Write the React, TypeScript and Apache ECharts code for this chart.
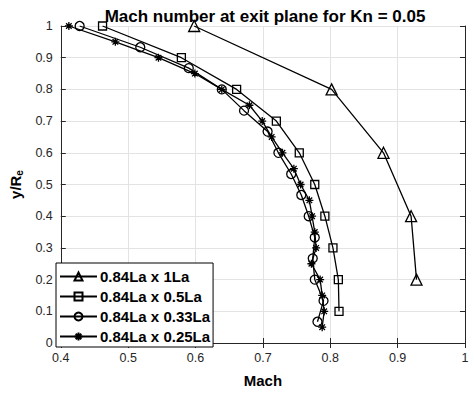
import React, { useEffect, useRef } from "react";
import * as echarts from "echarts";

const yTri = [1.0, 0.8, 0.6, 0.4, 0.2];
const xTri = [0.598, 0.802, 0.879, 0.92, 0.928];

const ySq = [1.0, 0.9, 0.8, 0.7, 0.6, 0.5, 0.4, 0.3, 0.2, 0.1];
const xSq = [0.462, 0.579, 0.661, 0.72, 0.754, 0.777, 0.792, 0.804, 0.812, 0.813];

const yCirc = [1.0, 0.933, 0.867, 0.8, 0.733, 0.667, 0.6, 0.533, 0.467, 0.4, 0.333, 0.267, 0.2, 0.133, 0.067];
const xCirc = [0.428, 0.518, 0.59, 0.639, 0.672, 0.707, 0.723, 0.742, 0.757, 0.768, 0.777, 0.774, 0.777, 0.79, 0.781];

const yStar = [1.0, 0.95, 0.9, 0.85, 0.8, 0.75, 0.7, 0.65, 0.6, 0.55, 0.5, 0.45, 0.4, 0.35, 0.3, 0.25, 0.2, 0.15, 0.1, 0.05];
const xStar = [0.412, 0.481, 0.545, 0.599, 0.639, 0.68, 0.699, 0.713, 0.729, 0.746, 0.756, 0.769, 0.773, 0.777, 0.779, 0.772, 0.785, 0.788, 0.791, 0.788];

const seriesNames = ["0.84La x 1La", "0.84La x 0.5La", "0.84La x 0.33La", "0.84La x 0.25La"];

const starPath = "path://M0 5 L10 5 M5 0 L5 10 M1.5 1.5 L8.5 8.5 M8.5 1.5 L1.5 8.5";

export default function App() {
  const ref = useRef<HTMLDivElement>(null);
  useEffect(() => {
    if (!ref.current) return;
    const chart = echarts.init(ref.current, undefined, { renderer: "svg" });
    const axisColor = "#262626";
    const font = "Liberation Sans, Arial, sans-serif";
    const mk = (name: string, xs: number[], ys: number[], symbol: string, size: number) => ({
      name,
      type: "line",
      data: xs.map((x, i) => [x, ys[i]]),
      symbol,
      symbolSize: size,
      showAllSymbol: true,
      lineStyle: { color: "#000", width: 1.3 },
      itemStyle: { color: "rgba(255,255,255,0)", borderColor: "#000", borderWidth: 1.3 },
      emphasis: { disabled: true },
    });
    chart.setOption({
      animation: false,
      title: {
        text: "Mach number at exit plane for Kn = 0.05",
        left: 260,
        textAlign: "center",
        top: 3,
        textStyle: { fontFamily: font, fontSize: 17, fontWeight: "bold", color: "#000" },
      },
      grid: { left: 56, right: 9, top: 26, bottom: 46 },
      legend: {
        left: 56,
        bottom: 46,
        orient: "vertical",
        itemWidth: 37,
        itemHeight: 10,
        itemGap: 5,
        padding: [6, 3, 3, 3],
        borderColor: "#000",
        borderWidth: 1,
        backgroundColor: "#fff",
        textStyle: { fontFamily: font, fontSize: 15, fontWeight: "bold", color: "#000", padding: [0, 0, 0, -2] },
        data: seriesNames,
      },
      xAxis: [
        {
          type: "value",
          min: 0.4,
          max: 1,
          interval: 0.1,
          name: "Mach",
          nameLocation: "middle",
          nameGap: 30,
          nameTextStyle: { fontFamily: font, fontSize: 15, fontWeight: "bold", color: "#000" },
          axisLine: { show: true, lineStyle: { color: axisColor, width: 1 } },
          axisTick: { show: true, inside: true, length: 5, lineStyle: { color: axisColor } },
          axisLabel: { fontFamily: font, fontSize: 12.5, color: axisColor, margin: 8, formatter: (v: number) => String(+v.toFixed(1)) },
          splitLine: { show: true, lineStyle: { color: "#e3e3e3", width: 1 } },
        },
        {
          type: "value",
          min: 0.4,
          max: 1,
          interval: 0.1,
          position: "top",
          axisLine: { show: true, lineStyle: { color: axisColor, width: 1 } },
          axisTick: { show: true, inside: true, length: 5, lineStyle: { color: axisColor } },
          axisLabel: { show: false },
          splitLine: { show: false },
        },
      ],
      yAxis: [
        {
          type: "value",
          min: 0,
          max: 1,
          interval: 0.1,
          name: "{a|y/R}{b|e}",
          nameLocation: "middle",
          nameGap: 32,
          nameRotate: 90,
          nameTextStyle: {
            rich: {
              a: { fontFamily: font, fontSize: 15, fontWeight: "bold", color: "#000" },
              b: { fontFamily: font, fontSize: 10, fontWeight: "bold", color: "#000", padding: [8, 0, 0, 0] },
            },
          },
          axisLine: { show: true, lineStyle: { color: axisColor, width: 1 } },
          axisTick: { show: true, inside: true, length: 5, lineStyle: { color: axisColor } },
          axisLabel: { fontFamily: font, fontSize: 12.5, color: axisColor, margin: 8, formatter: (v: number) => String(+v.toFixed(1)) },
          splitLine: { show: true, lineStyle: { color: "#e3e3e3", width: 1 } },
        },
        {
          type: "value",
          min: 0,
          max: 1,
          interval: 0.1,
          position: "right",
          axisLine: { show: true, lineStyle: { color: axisColor, width: 1 } },
          axisTick: { show: true, inside: true, length: 5, lineStyle: { color: axisColor } },
          axisLabel: { show: false },
          splitLine: { show: false },
        },
      ],
      series: [
        mk(seriesNames[0], xTri, yTri, "triangle", 11),
        mk(seriesNames[1], xSq, ySq, "rect", 8),
        mk(seriesNames[2], xCirc, yCirc, "circle", 9),
        mk(seriesNames[3], xStar, yStar, starPath, 8),
      ],
    });
    return () => chart.dispose();
  }, []);
  return <div ref={ref} style={{ width: 474, height: 393, position: "absolute", left: 0, top: 0, background: "#fff" }} />;
}
